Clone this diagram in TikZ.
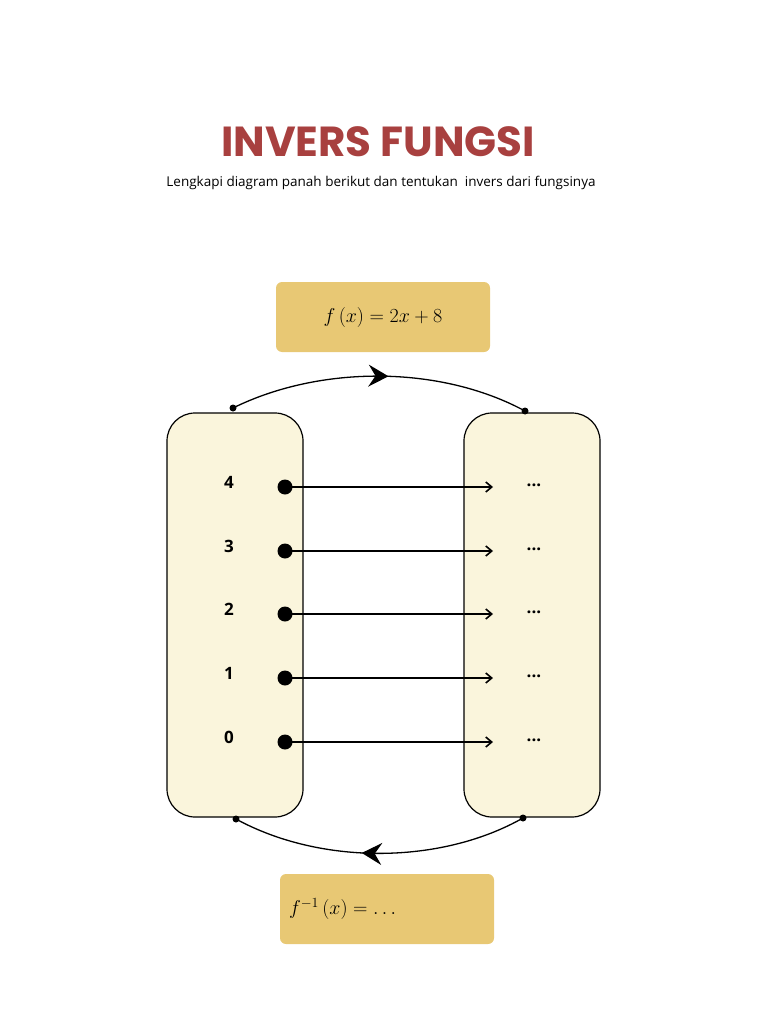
\documentclass[tikz,border=0pt]{standalone}
\usepackage{fix-cm}
\usepackage{fontspec}
\setmainfont{Open Sans}
\newfontfamily\titlefont{Poppins}
\usetikzlibrary{arrows.meta,decorations.markings}
\definecolor{titlered}{HTML}{A8403F}
\definecolor{gold}{HTML}{E8C874}
\definecolor{cream}{HTML}{FAF5DC}
\begin{document}
\begin{tikzpicture}[x=1pt,y=-1pt,
  setbox/.style={draw=black,line width=1.2pt,fill=cream,rounded corners=28pt},
  fbox/.style={fill=gold,rounded corners=6pt,minimum width=214pt,minimum height=70pt},
  num/.style={font=\bfseries\fontsize{17}{20}\selectfont},
  arr/.style={-{Straight Barb[length=6pt,width=10pt]},line width=1.6pt},
  arc/.style={line width=1.3pt,postaction={decorate}}]
\useasboundingbox (0,0) rectangle (768,1024);
\node[font=\titlefont\bfseries\fontsize{42}{46}\selectfont,text=titlered] (title) at (378,142) {INVERS FUNGSI};
\node[font=\fontsize{13.5}{16}\selectfont] (sub) at (381,183) {Lengkapi diagram panah berikut dan tentukan\ \ invers dari fungsinya};
\node[fbox] (top) at (383,317) {\fontsize{20}{24}\selectfont $f\left(x\right)=2x+8$};
\node[fbox,text width=196pt,align=left] (bot) at (387,909) {\fontsize{20}{24}\selectfont $f^{-1}\left(x\right)=\ldots$};
\draw[setbox] (167,413) rectangle (303,817);
\draw[setbox] (464,413) rectangle (600,817);
\coordinate (A) at (233,408); \coordinate (B) at (525,411);
\coordinate (C) at (236,819); \coordinate (D) at (523,818);
\fill (A) circle (3.5pt); \fill (B) circle (3.5pt);
\fill (C) circle (3.5pt); \fill (D) circle (3.5pt);
\draw[arc,decoration={markings,mark=at position 0.53 with {\arrow{Stealth[length=20pt,width=22pt,inset=7pt]}}}]
  (A) .. controls (320,365) and (440,365) .. (B);
\draw[arc,decoration={markings,mark=at position 0.56 with {\arrow{Stealth[length=20pt,width=22pt,inset=7pt]}}}]
  (D) .. controls (440,865) and (320,865) .. (C);
\foreach \n/\y in {4/487,3/551,2/614,1/678,0/742}{
  \node[num] (l\n) at (229,\y-5) {\n};
  \fill (285,\y) circle (7.5pt) coordinate (s\n);
  \coordinate (e\n) at (493,\y);
  \draw[arr] (s\n) -- (e\n);
  \node[num] (r\n) at (534,\y-2) {...};
}
\end{tikzpicture}
\end{document}
